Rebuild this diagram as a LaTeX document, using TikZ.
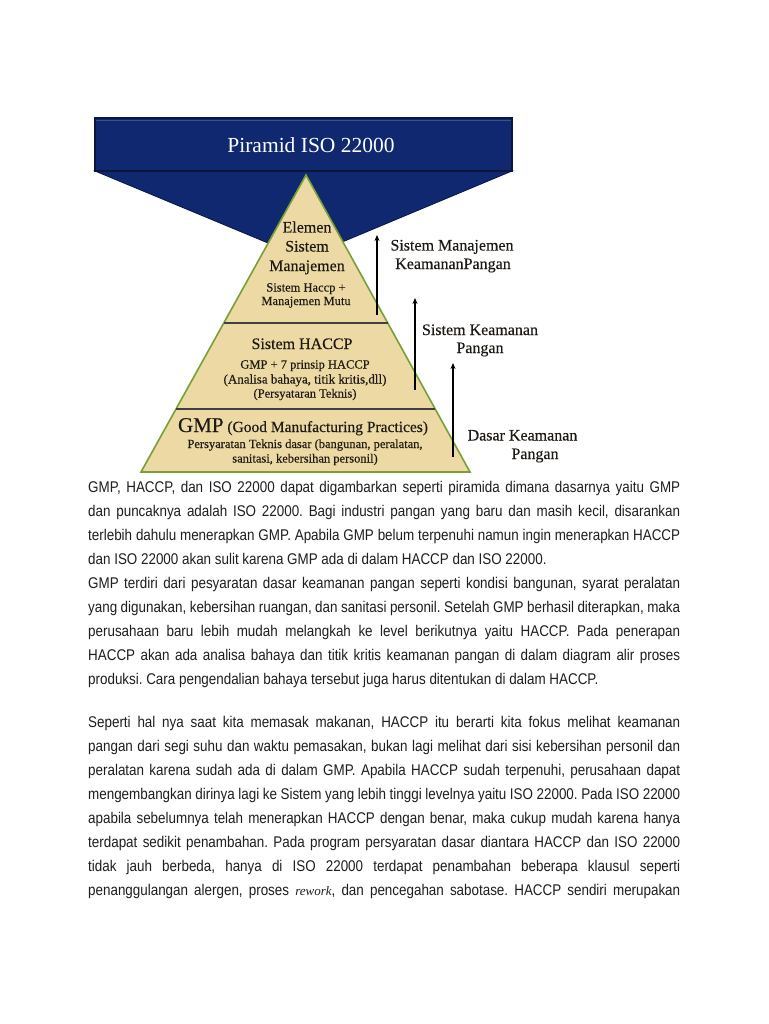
\documentclass[tikz,border=0pt]{standalone}
\usepackage{fontspec}
\newfontfamily\bodyfont[FakeStretch=0.865]{Liberation Sans}
\newfontfamily\pyrfont[FakeBold=0.25]{Liberation Serif}
\newfontfamily\itfont{Liberation Serif}
\usetikzlibrary{arrows.meta}
\definecolor{navy}{RGB}{16,40,112}
\definecolor{navydark}{RGB}{10,22,62}
\definecolor{navylight}{RGB}{60,80,150}
\definecolor{papyrus}{RGB}{236,217,163}
\definecolor{pgreen}{RGB}{120,160,55}
\definecolor{bodyink}{RGB}{30,30,30}
\definecolor{textdark}{RGB}{30,25,20}
\newcommand\jl[1]{\makebox[592pt][s]{#1}}
\tikzset{
  bodyline/.style={font=\bodyfont\fontsize{15.5}{18}\selectfont, text=bodyink, inner sep=0pt, anchor=base west},
  pyrtext/.style={font=\pyrfont\fontsize{#1}{#1}\selectfont, text=textdark, inner sep=0pt, anchor=base},
  sidelabel/.style={font=\pyrfont\fontsize{16}{16}\selectfont, text=textdark, inner sep=0pt, anchor=base},
  uparrow/.style={draw=black, line width=1.6pt, -{Stealth[length=6pt,width=5pt]}},
  divider/.style={draw=black!75, line width=1.5pt},
}
\begin{document}
\frenchspacing
\begin{tikzpicture}[x=1pt,y=-1pt]
\useasboundingbox[fill=white] (0,0) rectangle (768,1024);

% banner and inverted triangle
\coordinate (btl) at (95,118);
\coordinate (bbr) at (512,171);
\coordinate (tl) at (95,171);
\coordinate (tr) at (512,171);
\coordinate (tapex) at (304,258);
\filldraw[fill=navy, draw=navydark, line width=0.8pt] (tl) -- (tr) -- (tapex) -- cycle;
\filldraw[fill=navy, draw=navydark, line width=1.2pt] (btl) rectangle (bbr);
\draw[navylight, line width=0.8pt] (96,120.5) -- (511,120.5);
\node[pyrtext=21.5, text=white, font=\itfont\fontsize{21.5}{21.5}\selectfont] (title) at (311,152.5) {Piramid ISO 22000};

% pyramid
\coordinate (papex) at (306,175);
\coordinate (pbr) at (470,472);
\coordinate (pbl) at (141,472);
\filldraw[fill=papyrus, draw=pgreen, line width=1.6pt] (papex) -- (pbr) -- (pbl) -- cycle;
\coordinate (d1l) at (223.8,323);
\coordinate (d1r) at (387.7,323);
\coordinate (d2l) at (176,409);
\coordinate (d2r) at (435.2,409);
\draw[divider] (d1l) -- (d1r);
\draw[divider] (d2l) -- (d2r);

\node[pyrtext=16] (el1) at (307,232.5) {Elemen};
\node[pyrtext=16] (el2) at (307,251.5) {Sistem};
\node[pyrtext=16] (el3) at (307,271) {Manajemen};
\node[pyrtext=12.5] (el4) at (306,291.5) {Sistem Haccp +};
\node[pyrtext=12.5] (el5) at (306,305) {Manajemen Mutu};
\node[pyrtext=16] (hc1) at (302,349) {Sistem HACCP};
\node[pyrtext=12.5] (hc2) at (305,368.5) {GMP + 7 prinsip HACCP};
\node[pyrtext=13] (hc3) at (305,383.5) {(Analisa bahaya, titik kritis,dll)};
\node[pyrtext=12.5] (hc4) at (305,397.5) {(Persyataran Teknis)};
\node[pyrtext=15.5] (gm1) at (303,432) {{\fontsize{21}{21}\selectfont GMP} (Good Manufacturing Practices)};
\node[pyrtext=12.5] (gm2) at (305,448) {Persyaratan Teknis dasar (bangunan, peralatan,};
\node[pyrtext=12.5] (gm3) at (305,462.5) {sanitasi, kebersihan personil)};

% arrows
\coordinate (a1b) at (377,315);
\coordinate (a1t) at (377,235);
\coordinate (a2b) at (415,390);
\coordinate (a2t) at (415,298);
\coordinate (a3b) at (453,457);
\coordinate (a3t) at (453,363);
\draw[uparrow] (a1b) -- (a1t);
\draw[uparrow] (a2b) -- (a2t);
\draw[uparrow] (a3b) -- (a3t);

\node[sidelabel] (s1a) at (452,250.5) {Sistem Manajemen};
\node[sidelabel] (s1b) at (453,269) {KeamananPangan};
\node[sidelabel] (s2a) at (480,335) {Sistem Keamanan};
\node[sidelabel] (s2b) at (480,353) {Pangan};
\node[sidelabel] (s3a) at (522.5,440.5) {Dasar Keamanan};
\node[sidelabel] (s3b) at (535,459) {Pangan};

% body text
\node[bodyline] (l1) at (88,492) {\jl{GMP, HACCP, dan ISO 22000 dapat digambarkan seperti piramida dimana dasarnya yaitu GMP}};
\node[bodyline] (l2) at (88,516) {\jl{dan puncaknya adalah ISO 22000. Bagi industri pangan yang baru dan masih kecil, disarankan}};
\node[bodyline] (l3) at (88,540) {\jl{terlebih dahulu menerapkan GMP. Apabila GMP belum terpenuhi namun ingin menerapkan HACCP}};
\node[bodyline] (l4) at (88,564) {dan ISO 22000 akan sulit karena GMP ada di dalam HACCP dan ISO 22000.};
\node[bodyline] (l5) at (88,588) {\jl{GMP terdiri dari pesyaratan dasar keamanan pangan seperti kondisi bangunan, syarat peralatan}};
\node[bodyline] (l6) at (88,612) {\jl{yang digunakan, kebersihan ruangan, dan sanitasi personil. Setelah GMP berhasil diterapkan, maka}};
\node[bodyline] (l7) at (88,636) {\jl{perusahaan baru lebih mudah melangkah ke level berikutnya yaitu HACCP. Pada penerapan}};
\node[bodyline] (l8) at (88,660) {\jl{HACCP akan ada analisa bahaya dan titik kritis keamanan pangan di dalam diagram alir proses}};
\node[bodyline] (l9) at (88,684) {produksi. Cara pengendalian bahaya tersebut juga harus ditentukan di dalam HACCP.};

\node[bodyline] (l10) at (88,727.5) {\jl{Seperti hal nya saat kita memasak makanan, HACCP itu berarti kita fokus melihat keamanan}};
\node[bodyline] (l11) at (88,751.5) {\jl{pangan dari segi suhu dan waktu pemasakan, bukan lagi melihat dari sisi kebersihan personil dan}};
\node[bodyline] (l12) at (88,775.5) {\jl{peralatan karena sudah ada di dalam GMP. Apabila HACCP sudah terpenuhi, perusahaan dapat}};
\node[bodyline] (l13) at (88,799.5) {\jl{mengembangkan dirinya lagi ke Sistem yang lebih tinggi levelnya yaitu ISO 22000. Pada ISO 22000}};
\node[bodyline] (l14) at (88,823.5) {\jl{apabila sebelumnya telah menerapkan HACCP dengan benar, maka cukup mudah karena hanya}};
\node[bodyline] (l15) at (88,847.5) {\jl{terdapat sedikit penambahan. Pada program persyaratan dasar diantara HACCP dan ISO 22000}};
\node[bodyline] (l16) at (88,871.5) {\jl{tidak jauh berbeda, hanya di ISO 22000 terdapat penambahan beberapa klausul seperti}};
\node[bodyline] (l17) at (88,895.5) {\jl{penanggulangan alergen, proses {\itfont\itshape\fontsize{13}{16}\selectfont rework}, dan pencegahan sabotase. HACCP sendiri merupakan}};
\end{tikzpicture}
\end{document}
